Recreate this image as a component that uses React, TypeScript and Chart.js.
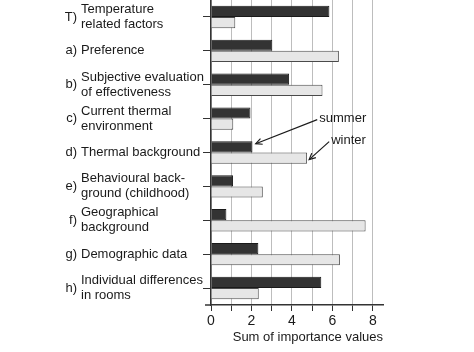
import { useEffect, useRef } from 'react';
import { Chart, registerables } from 'chart.js';

Chart.register(...registerables);

const prefixes = ['T)', 'a)', 'b)', 'c)', 'd)', 'e)', 'f)', 'g)', 'h)'];
const categories: string[][] = [
  ['Temperature', 'related factors'],
  ['Preference'],
  ['Subjective evaluation', 'of effectiveness'],
  ['Current thermal', 'environment'],
  ['Thermal background'],
  ['Behavioural back-', 'ground (childhood)'],
  ['Geographical', 'background'],
  ['Demographic data'],
  ['Individual differences', 'in rooms'],
];
const summer = [5.85, 3.03, 3.86, 1.95, 2.05, 1.09, 0.76, 2.34, 5.45];
const winter = [1.2, 6.32, 5.51, 1.1, 4.75, 2.56, 7.64, 6.37, 2.36];
const xGridValues = [0, 1, 2, 3, 4, 5, 6, 7, 8];
const xTickLabels = ['0', '2', '4', '6', '8'];
const xMax = 8.5;
const seriesNames = ['summer', 'winter'];
const axisTitle = 'Sum of importance values';

// annotation callouts in data coordinates
const callouts = [
  { text: seriesNames[0], tx: 5.35, ty: 2.99, sx: 5.25, sy: 3.03, ex: 2.21, ey: 3.74 },
  { text: seriesNames[1], tx: 5.94, ty: 3.64, sx: 5.84, sy: 3.68, ex: 4.85, ey: 4.21 },
];

const FAMILY = '"Liberation Sans", Arial, sans-serif';
const FONT = '13px ' + FAMILY;

const labelPlugin = {
  id: 'customLabels',
  afterDraw(chart: any) {
    const { ctx, chartArea } = chart;
    const ys = chart.scales.y;
    const xs = chart.scales.x;
    ctx.save();
    ctx.font = FONT;
    ctx.fillStyle = '#1a1a1a';
    ctx.textBaseline = 'middle';
    categories.forEach((lines, i) => {
      const cy = ys.getPixelForValue(i);
      ctx.textAlign = 'right';
      ctx.fillText(prefixes[i], chartArea.left - 134, cy);
      ctx.textAlign = 'left';
      const lh = 15;
      const start = cy - ((lines.length - 1) * lh) / 2;
      lines.forEach((ln, j) => ctx.fillText(ln, chartArea.left - 130, start + j * lh));
    });
    ctx.strokeStyle = '#333';
    ctx.lineWidth = 1.5;
    ctx.beginPath();
    ctx.moveTo(chartArea.left - 6, chartArea.bottom);
    ctx.lineTo(chartArea.left, chartArea.bottom);
    ctx.stroke();
    ctx.lineWidth = 1.2;
    ctx.strokeStyle = '#1a1a1a';
    callouts.forEach((c) => {
      ctx.textAlign = 'left';
      ctx.fillText(c.text, xs.getPixelForValue(c.tx), ys.getPixelForValue(c.ty));
      const x1 = xs.getPixelForValue(c.sx);
      const y1 = ys.getPixelForValue(c.sy);
      const x2 = xs.getPixelForValue(c.ex);
      const y2 = ys.getPixelForValue(c.ey);
      ctx.beginPath();
      ctx.moveTo(x1, y1);
      ctx.lineTo(x2, y2);
      ctx.stroke();
      const ang = Math.atan2(y2 - y1, x2 - x1);
      const L = 7;
      const w = 0.45;
      ctx.beginPath();
      ctx.moveTo(x2 - L * Math.cos(ang - w), y2 - L * Math.sin(ang - w));
      ctx.lineTo(x2, y2);
      ctx.lineTo(x2 - L * Math.cos(ang + w), y2 - L * Math.sin(ang + w));
      ctx.stroke();
    });
    ctx.restore();
  },
};

const isGrid = (v: number) => xGridValues.includes(v);

export default function App() {
  const ref = useRef<HTMLCanvasElement>(null);
  useEffect(() => {
    if (!ref.current) return;
    const chart = new Chart(ref.current, {
      type: 'bar',
      data: {
        labels: categories.map((l, i) => prefixes[i] + ' ' + l.join(' ')),
        datasets: [
          {
            label: seriesNames[0],
            data: summer,
            backgroundColor: '#333333',
            borderColor: '#1a1a1a',
            borderWidth: 1,
            categoryPercentage: 0.66,
            barPercentage: 1,
          },
          {
            label: seriesNames[1],
            data: winter,
            backgroundColor: '#e6e6e6',
            borderColor: '#4a4a4a',
            borderWidth: 1,
            categoryPercentage: 0.66,
            barPercentage: 1,
          },
        ],
      },
      options: {
        indexAxis: 'y',
        animation: false,
        responsive: true,
        maintainAspectRatio: false,
        layout: { padding: { left: 203, right: 91, top: 0, bottom: 8 } },
        plugins: { legend: { display: false }, tooltip: { enabled: false } },
        scales: {
          x: {
            min: 0,
            max: xMax,
            afterBuildTicks: (scale: any) => {
              scale.ticks = [...xGridValues, xMax].map((v) => ({ value: v }));
            },
            ticks: {
              padding: 3,
              color: '#1a1a1a',
              font: { family: FAMILY, size: 14, lineHeight: 1 },
              callback: (v: any) => (xTickLabels.includes(String(v)) ? String(v) : ''),
              maxRotation: 0,
              autoSkip: false,
            },
            grid: {
              color: (c: any) => (isGrid(c.tick?.value) ? '#bdbdbd' : 'rgba(0,0,0,0)'),
              tickColor: (c: any) => (isGrid(c.tick?.value) ? '#333' : 'rgba(0,0,0,0)'),
              lineWidth: 1,
              tickLength: 6,
            },
            border: { display: true, color: '#333', width: 1.5 },
            title: {
              display: true,
              text: axisTitle,
              align: 'end',
              color: '#1a1a1a',
              font: { family: FAMILY, size: 13, lineHeight: 1 },
              padding: { top: 0, bottom: 0 },
            },
          },
          y: {
            ticks: { display: false },
            grid: { drawOnChartArea: false, offset: false, tickColor: '#333', tickLength: 8 },
            border: { display: true, color: '#333', width: 1.5 },
          },
        },
      },
      plugins: [labelPlugin],
    });
    return () => chart.destroy();
  }, []);
  return (
    <div style={{ position: 'fixed', left: 0, top: 0, width: 474, height: 352, background: '#fff' }}>
      <canvas ref={ref} />
    </div>
  );
}
